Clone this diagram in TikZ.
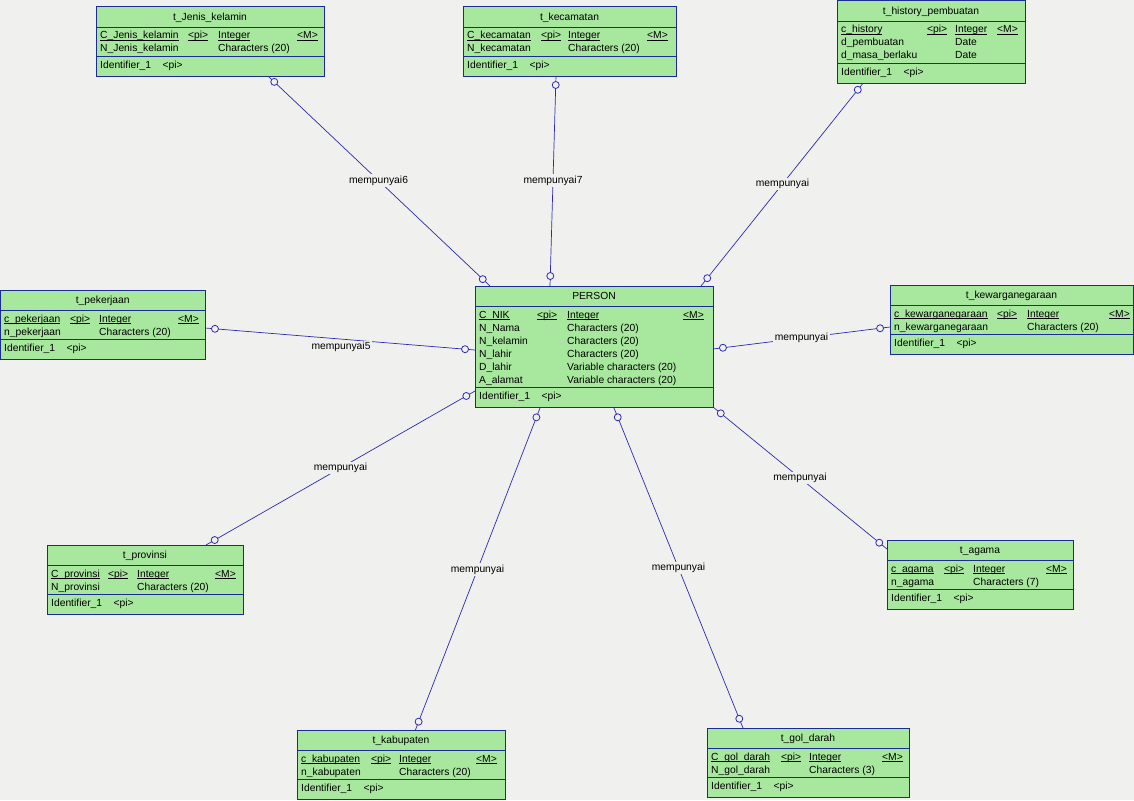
\documentclass[tikz,border=0pt]{standalone}
\usepackage{fontspec}
\setmainfont{Liberation Sans}
\usetikzlibrary{calc}
\definecolor{bgc}{HTML}{F0F0EE}
\definecolor{efill}{HTML}{A8E89E}
\definecolor{eline}{HTML}{1C2A96}
\definecolor{cline}{HTML}{2B2BB0}
\tikzset{
  ebox/.style={rectangle, draw=eline, fill=efill, line width=1pt, inner sep=0pt, outer sep=0pt},
  sepl/.style={draw=eline, line width=0.9pt},
  txt/.style={anchor=base west, inner sep=0pt, font=\fontsize{10.3}{12}\selectfont, text=black},
  ttl/.style={anchor=base, inner sep=0pt, font=\fontsize{10.3}{12}\selectfont, text=black},
  conn/.style={draw=cline, line width=0.7pt},
  circ/.style={circle, draw=cline, fill=bgc, line width=0.8pt, inner sep=0pt, minimum size=7pt},
  lbl/.style={fill=bgc, inner sep=1.5pt, font=\fontsize{10.3}{12}\selectfont, text=black},
}
\newcommand{\erUl}[1]{\underline{\smash{#1}}}
\newcommand{\erCols}[4]{\def\erCA{#1}\def\erCB{#2}\def\erCC{#3}\def\erCD{#4}}
\newcommand{\erEntity}[6]{%
  \pgfmathsetmacro{\erW}{#3-#2}%
  \pgfmathsetmacro{\erH}{43.5+13*#5}%
  \pgfmathsetmacro{\erSA}{#4+20}%
  \pgfmathsetmacro{\erSB}{#4+23.5+13*#5}%
  \node[ebox, minimum width=\erW pt, minimum height=\erH pt, anchor=north west] (#1) at (#2,#4) {};
  \draw[sepl] (#2,\erSA) -- (#3,\erSA);
  \draw[sepl] (#2,\erSB) -- (#3,\erSB);
  \node[ttl] (#1-t) at ({(#2+#3)/2},#4+13.5) {#6};
  \node[txt] (#1-id) at (\erCA,\erSB+12) {Identifier\_1};
  \node[txt] (#1-ip) at (\erCA+62.5,\erSB+12) {<pi>};
}
\newcommand{\erKey}[3]{%
  \node[txt] (#1-k) at (\erCA,\erSA+12) {\erUl{#2}};
  \node[txt] (#1-kp) at (\erCB,\erSA+12) {\erUl{<pi>}};
  \node[txt] (#1-kt) at (\erCC,\erSA+12) {\erUl{#3}};
  \node[txt] (#1-km) at (\erCD,\erSA+12) {\erUl{<M>}};
}
\newcommand{\erRow}[4]{%
  \node[txt] (#1-n#2) at (\erCA,\erSA+12+13*#2) {#3};
  \node[txt] (#1-t#2) at (\erCC,\erSA+12+13*#2) {#4};
}
\newcommand{\erConn}[6]{% id, Ax, Ay, Bx, By, label
  \coordinate (#1A) at (#2,#3);
  \coordinate (#1B) at (#4,#5);
  \draw[conn] (#1A) -- node[lbl] (#1L) {#6} (#1B);
  \node[circ] (#1C1) at ($(#1A)!10pt!(#1B)$) {};
  \node[circ] (#1C2) at ($(#1B)!10pt!(#1A)$) {};
}
\begin{document}
\begin{tikzpicture}[x=1pt,y=-1pt]
\fill[bgc] (0,0) rectangle (1134,800);
\useasboundingbox (0,0) rectangle (1134,800);

% connectors
\erConn{cjk}{267}{75}{490}{286}{mempunyai6}
\erConn{ckec}{556}{75}{550}{286}{mempunyai7}
\erConn{chist}{864}{82}{701}{286}{mempunyai}
\coordinate (cpekA) at (205,328);
\coordinate (cpekB) at (475,350);
\draw[conn] (cpekA) -- (cpekB);
\node[lbl] (cpekL) at ($(cpekA)!0.5!(cpekB)+(1,8)$) {mempunyai5};
\node[circ] (cpekC1) at ($(cpekA)!10pt!(cpekB)$) {};
\node[circ] (cpekC2) at ($(cpekB)!10pt!(cpekA)$) {};
\erConn{ckew}{890}{327}{713}{349}{mempunyai}
\erConn{cprov}{206}{545}{475}{391}{mempunyai}
\erConn{ckab}{415}{731}{540}{408}{mempunyai}
\erConn{cgol}{743}{728}{614}{408}{mempunyai}
\erConn{cag}{887}{549}{713}{407}{mempunyai}

% entities
\erCols{100}{188}{218}{297}
\erEntity{jk}{96}{324}{7}{2}{t\_Jenis\_kelamin}
\erKey{jk}{C\_Jenis\_kelamin}{Integer}
\erRow{jk}{1}{N\_Jenis\_kelamin}{Characters (20)}

\erCols{467}{541}{568}{647}
\erEntity{kec}{463}{676}{7}{2}{t\_kecamatan}
\erKey{kec}{C\_kecamatan}{Integer}
\erRow{kec}{1}{N\_kecamatan}{Characters (20)}

\erCols{841}{927}{955}{997}
\erEntity{hist}{837}{1025}{1}{3}{t\_history\_pembuatan}
\erKey{hist}{c\_history}{Integer}
\erRow{hist}{1}{d\_pembuatan}{Date}
\erRow{hist}{2}{d\_masa\_berlaku}{Date}

\erCols{4}{70}{99}{178}
\erEntity{pek}{0.5}{205}{290}{2}{t\_pekerjaan}
\erKey{pek}{c\_pekerjaan}{Integer}
\erRow{pek}{1}{n\_pekerjaan}{Characters (20)}

\erCols{479}{537}{567}{683}
\erEntity{per}{475}{713}{286}{6}{PERSON}
\erKey{per}{C\_NIK}{Integer}
\erRow{per}{1}{N\_Nama}{Characters (20)}
\erRow{per}{2}{N\_kelamin}{Characters (20)}
\erRow{per}{3}{N\_lahir}{Characters (20)}
\erRow{per}{4}{D\_lahir}{Variable characters (20)}
\erRow{per}{5}{A\_alamat}{Variable characters (20)}

\erCols{894}{997}{1027}{1109}
\erEntity{kew}{890}{1133}{285}{2}{t\_kewarganegaraan}
\erKey{kew}{c\_kewarganegaraan}{Integer}
\erRow{kew}{1}{n\_kewarganegaraan}{Characters (20)}

\erCols{51}{108}{137}{215}
\erEntity{prov}{47}{243}{545}{2}{t\_provinsi}
\erKey{prov}{C\_provinsi}{Integer}
\erRow{prov}{1}{N\_provinsi}{Characters (20)}

\erCols{891}{944}{973}{1046}
\erEntity{ag}{887}{1073}{540}{2}{t\_agama}
\erKey{ag}{c\_agama}{Integer}
\erRow{ag}{1}{n\_agama}{Characters (7)}

\erCols{301}{371}{399}{476}
\erEntity{kab}{297}{505}{730}{2}{t\_kabupaten}
\erKey{kab}{c\_kabupaten}{Integer}
\erRow{kab}{1}{n\_kabupaten}{Characters (20)}

\erCols{711}{781}{809}{882}
\erEntity{gol}{707}{909}{728}{2}{t\_gol\_darah}
\erKey{gol}{C\_gol\_darah}{Integer}
\erRow{gol}{1}{N\_gol\_darah}{Characters (3)}
\end{tikzpicture}
\end{document}
